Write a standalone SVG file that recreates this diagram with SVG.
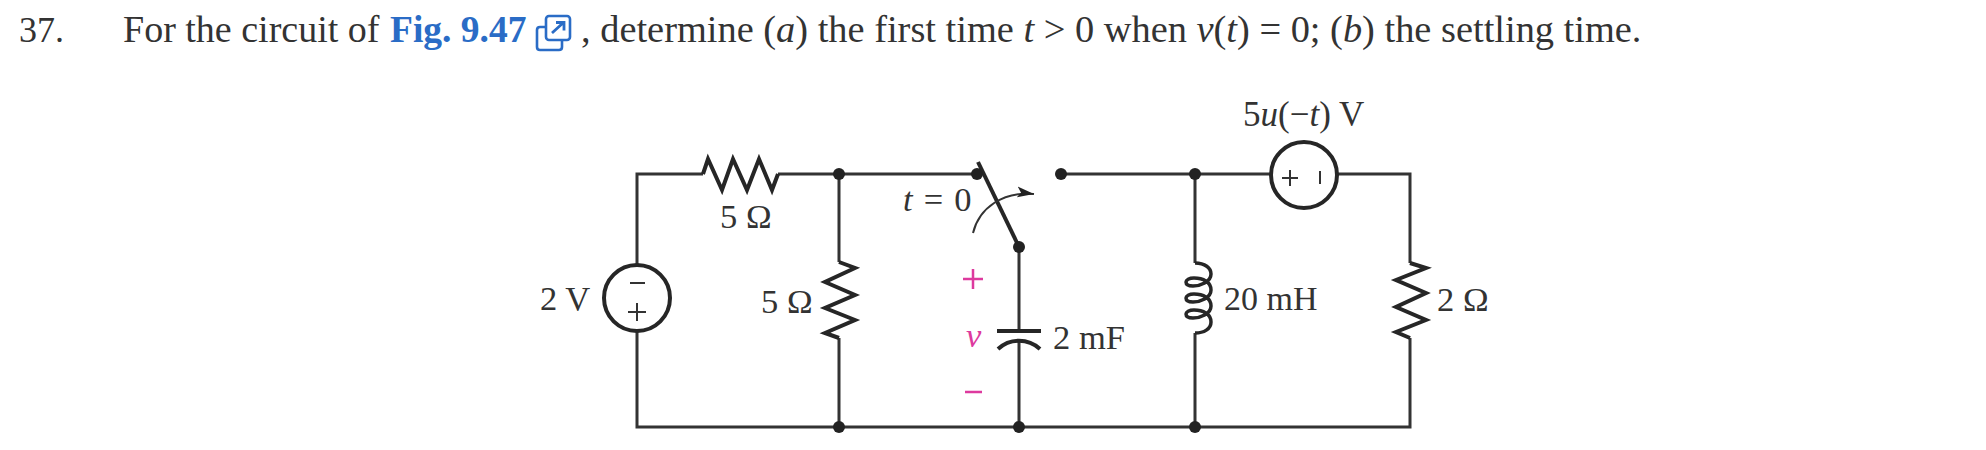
<svg xmlns="http://www.w3.org/2000/svg" width="1986" height="450" viewBox="0 0 1986 450">
<style>
text{font-family:"Liberation Serif","Times New Roman",serif;fill:#333}
.h{font-size:38.4px}
.l{font-size:34.500px}
.b{font-weight:bold;fill:#2a6cc6}
.i{font-style:italic}
.w{fill:none;stroke:#333;stroke-width:3}
.z{fill:none;stroke:#262626;stroke-width:4}
.d{fill:#222}
.c{fill:#fff;stroke:#262626;stroke-width:4}
.p{fill:none;stroke:#dd3a9e;stroke-width:2.5}
.s{fill:none;stroke:#333;stroke-width:2}
.ic{fill:none;stroke:#2a6cc6;stroke-width:2.6}
</style>
<defs>
<marker id="ah" markerUnits="userSpaceOnUse" markerWidth="18" markerHeight="12" refX="17" refY="6" orient="auto"><path d="M0 0L17 6L0 11L4 6Z" fill="#222"/></marker>
</defs>
<g id="question">
<text x="19" y="42" style="font-size:36px">37.</text>
<text x="123" y="42" style="font-size:38px">For the circuit of </text>
<text class="b" x="390" y="42" style="font-size:37.500px">Fig. 9.47</text>
<g id="link-icon"><path class="ic" d="M545 27H540Q537 27 537 30V47Q537 50 540 50H559Q562 50 562 47V41"/><rect class="ic" x="546" y="16" width="24" height="24" rx="3"/><path d="M552 33L563 23M556 22.500H564V30.500" fill="none" stroke="#2a6cc6" stroke-width="2.800"/></g>
<text class="h" x="581" y="42">, determine (<tspan class="i">a</tspan>) the first time <tspan class="i">t</tspan> &gt; 0 when <tspan class="i">v</tspan>(<tspan class="i">t</tspan>) = 0; (<tspan class="i">b</tspan>) the settling time.</text>
</g>
<g id="connectors">
<path class="w" d="M637 265V174H703M778 174H977"/>
<path class="w" d="M637 331V427H1410V338"/>
<path class="w" d="M839 174V262M839 338V427"/>
<path class="w" d="M1019 247V331M1019 341V427"/>
<path class="w" d="M1061 174H1271M1337 174H1410V263"/>
<path class="w" d="M1195 174V263M1195 333V427"/>
</g>
<g id="r1"><path class="z" d="M703 174L708 159L722 190L733 159L747 190L759 159L772 190L778 174"/><text class="l" x="720" y="228">5 Ω</text></g>
<g id="r2"><path class="z" d="M839 262L855 268L825 282L855 295L825 308L855 320L825 333L839 338"/><text class="l" x="761" y="313">5 Ω</text></g>
<g id="r3"><path class="z" d="M1410 263L1426 268L1396 280L1426 293L1396 307L1426 320L1396 332L1410 338"/><text class="l" x="1437" y="311">2 Ω</text></g>
<g id="v1"><circle class="c" cx="637" cy="298" r="33"/><path class="s" d="M630 283H645M628 312H646M637 303V321"/><text class="l" x="540" y="310">2 V</text></g>
<g id="v2"><circle class="c" cx="1304" cy="175" r="33"/><path class="s" d="M1282 178H1298M1290 170V186M1320 171V184"/><text x="1243" y="126" style="font-size:35px">5<tspan class="i">u</tspan>(−<tspan class="i">t</tspan>) V</text></g>
<g id="switch"><path d="M978 162L1019 247" fill="none" stroke="#262626" stroke-width="4"/><path class="s" d="M973 233C979 208 1003 191 1034 194" marker-end="url(#ah)"/><text class="l" x="903" y="211" word-spacing="2.500"><tspan class="i">t</tspan> = 0</text></g>
<g id="cap"><path class="z" d="M997 331H1041M998 349C1010 338 1028 338 1040 349"/><text class="l" x="1053" y="349">2 mF</text></g>
<g id="vlabel"><path class="p" d="M963 279H983M973 269V289M965 392H982"/><text class="l i" x="966" y="347" style="fill:#dd3a9e">v</text></g>
<g id="l1"><path fill="none" stroke="#262626" stroke-width="3.500" d="M1195 263C1205 263 1211 268 1211 274C1211 282 1200 286 1193 286C1188 286 1186 284 1186 282C1186 280 1189 278 1194 278C1203 278 1211 282 1211 290C1211 298 1200 302 1193 302C1188 302 1186 300 1186 298C1186 296 1189 294 1194 294C1203 294 1211 298 1211 306C1211 314 1200 318 1193 318C1188 318 1186 316 1186 314C1186 312 1189 310 1194 310C1203 310 1211 314 1211 322C1211 329 1204 333 1195 333"/><text x="1224" y="310" style="font-size:34px">20 mH</text></g>
<g id="nodes">
<circle class="d" cx="839" cy="174" r="6"/><circle class="d" cx="839" cy="427" r="6"/>
<circle class="d" cx="977" cy="174" r="6"/><circle class="d" cx="1019" cy="247" r="6"/>
<circle class="d" cx="1061" cy="174" r="6"/><circle class="d" cx="1019" cy="427" r="6"/>
<circle class="d" cx="1195" cy="174" r="6"/><circle class="d" cx="1195" cy="427" r="6"/>
</g>
</svg>
